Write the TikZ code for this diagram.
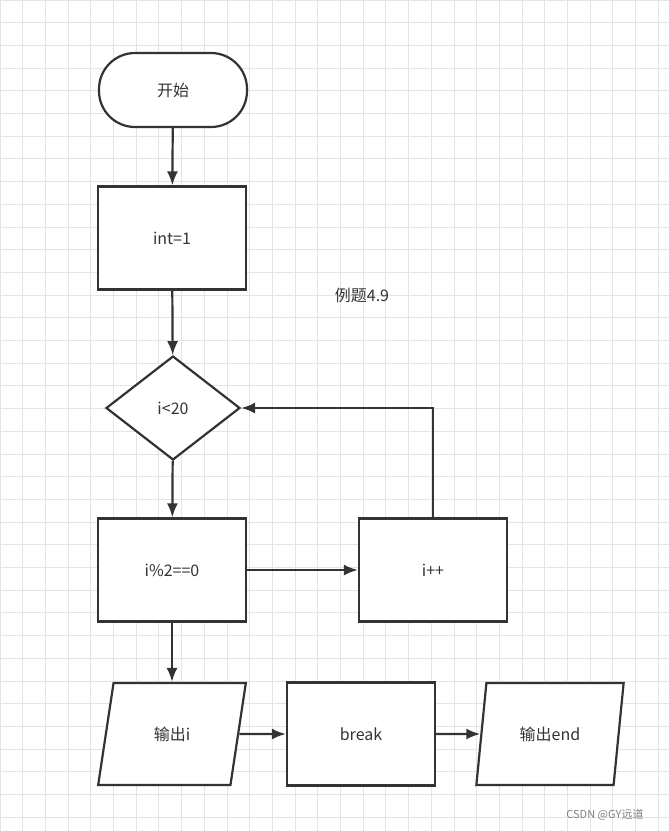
\documentclass[tikz,border=0pt]{standalone}
\usepackage{fontspec}
\setmainfont{Noto Sans CJK SC}
\usetikzlibrary{arrows.meta,shapes.geometric,positioning}
\definecolor{ink}{HTML}{333333}
\definecolor{gridc}{HTML}{E4E4E4}

\begin{document}
\begin{tikzpicture}[x=1pt,y=-1pt,
  every node/.style={font=\fontsize{16}{18}\selectfont,text=ink},
  box/.style={draw=ink,line width=2.2pt,fill=white,minimum width=148pt,minimum height=103pt,inner sep=0pt},
  term/.style={box,rounded corners=36pt,minimum height=74pt},
  io/.style={draw=ink,line width=2.2pt,fill=white,trapezium,trapezium left angle=72,trapezium right angle=108,trapezium stretches=true,minimum width=148pt,minimum height=102pt,inner sep=0pt},
  test/.style={draw=ink,line width=2.2pt,fill=white,diamond,minimum width=134pt,minimum height=104pt,inner sep=0pt},
  flow/.style={draw=ink,line width=2.2pt,-{Latex[length=14pt,width=11pt]}}]
\useasboundingbox (0,0) rectangle (669,831);
%grid
\foreach \g in {0,...,36}
  \draw[gridc,line width=1pt] (\g*22.7,0) -- (\g*22.7,831) (0,\g*22.7) -- (669,\g*22.7);
%shapes
\node[term] (start) at (173,90) {开始};
\node[box] (init) at (172,238) {int=1};
\node[test] (cond) at (173,408) {i<20};
\node[box] (mod) at (172,570) {i\%2==0};
\node[box] (inc) at (433,570) {i++};
\node[io] (outi) at (172,734) {输出i};
\node[box] (brk) at (361,734) {break};
\node[io] (outend) at (550,734) {输出end};
\node (title) at (362,295) {例题4.9};
\node[font=\fontsize{11}{12}\selectfont,text=gray] (mark) at (605,815) {CSDN @GY远道};
%arrows
\draw[flow] (start) -- (init);
\draw[flow] (init) -- (cond);
\draw[flow] (cond) -- (mod);
\draw[flow] (mod) -- (inc);
\draw[flow] (inc.north) |- (cond.east);
\draw[flow] (mod) -- (outi);
\draw[flow] (outi.east) -- (brk);
\draw[flow] (brk) -- (outend.west);
\end{tikzpicture}
\end{document}
